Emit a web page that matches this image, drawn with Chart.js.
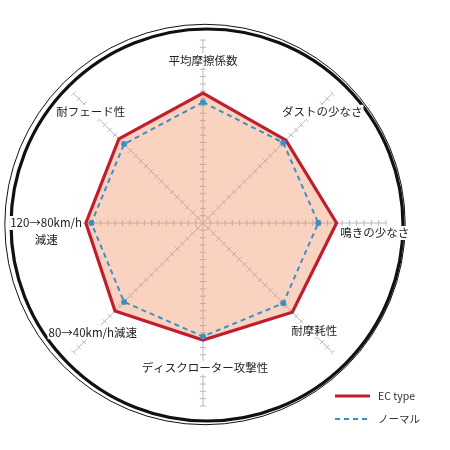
<!DOCTYPE html>
<html>
<head>
<meta charset="utf-8">
<script src="https://cdn.jsdelivr.net/npm/chart.js@4/dist/chart.umd.min.js"></script>
<style>
  html, body { margin: 0; padding: 0; background: #fff; }
</style>
</head>
<body>
<canvas id="radarChart" width="450" height="450"></canvas>
<script>
// axes, clockwise from the top
var categories = ['平均摩擦係数', 'ダストの少なさ', '鳴きの少なさ', '耐摩耗性',
                  'ディスクローター攻撃性', '80→40km/h減速', ['120→80km/h', '減速'], '耐フェード性'];
var seriesNames = ['EC type', 'ノーマル'];
var ecValues     = [3.55, 3.2, 3.65, 3.45, 3.2, 3.4, 3.2, 3.25];
var normalValues = [3.3, 3.1, 3.15, 3.1, 3.1, 3.05, 3.05, 3.05];
var scaleMin = 0, scaleMax = 5, scaleStep = 0.2;

var redColor  = '#c01e2d';
var blueColor = '#3a8fc6';
var gridColor = '#b9b9c4';
var jpFont = '"Noto Sans CJK JP", "Noto Sans", sans-serif';

// small nudges so each label sits where the original put it
var labelShift = [[0, 0], [4, 4], [9, 10], [-4, -8], [2, -18], [5, -6], [6, 0], [3, 4]];

var decor = {
  id: 'decor',
  beforeDatasetsDraw: function(chart) {
    var s = chart.scales.r, ctx = chart.ctx;
    ctx.save();
    ctx.strokeStyle = gridColor;
    ctx.lineWidth = 1;
    s.ticks.forEach(function(t) {
      if (t.value <= scaleMin) return;
      var d = s.getDistanceFromCenterForValue(t.value);
      for (var i = 0; i < chart.data.labels.length; i++) {
        var p = s.getPointPosition(i, d);
        var nx = -Math.sin(p.angle), ny = Math.cos(p.angle);
        var h = 3;
        ctx.beginPath();
        ctx.moveTo(p.x - nx * h, p.y - ny * h);
        ctx.lineTo(p.x + nx * h, p.y + ny * h);
        ctx.stroke();
      }
    });
    ctx.restore();
  },
  afterDraw: function(chart) {
    var s = chart.scales.r, ctx = chart.ctx, R = s.drawingArea;
    ctx.save();

    // double ring around the chart
    ctx.strokeStyle = '#111';
    ctx.lineWidth = 3.2;
    ctx.beginPath();
    ctx.arc(s.xCenter + 4, s.yCenter + 2, R * 1.071, 0, Math.PI * 2);
    ctx.stroke();
    ctx.lineWidth = 1;
    ctx.beginPath();
    ctx.arc(s.xCenter + 2, s.yCenter + 1.5, R * 1.094, 0, Math.PI * 2);
    ctx.stroke();

    // point labels with white backdrop
    ctx.font = '11.5px ' + jpFont;
    ctx.textAlign = 'center';
    ctx.textBaseline = 'middle';
    chart.data.labels.forEach(function(lab, i) {
      var p = s.getPointPosition(i, R * 0.89);
      var lines = Array.isArray(lab) ? lab : [lab];
      lines.forEach(function(txt, k) {
        var x = p.x + labelShift[i][0];
        var y = p.y + labelShift[i][1] + k * 17;
        var w = ctx.measureText(txt).width;
        ctx.fillStyle = '#fff';
        ctx.fillRect(x - w / 2 - 1, y - 7, w + 2, 14);
        ctx.fillStyle = '#222';
        ctx.fillText(txt, x, y);
      });
    });

    // legend, bottom right
    ctx.font = '10.5px ' + jpFont;
    ctx.textAlign = 'left';
    ctx.lineWidth = 3;
    ctx.strokeStyle = redColor;
    ctx.beginPath(); ctx.moveTo(335, 396); ctx.lineTo(370, 396); ctx.stroke();
    ctx.lineWidth = 2;
    ctx.strokeStyle = blueColor;
    ctx.setLineDash([5, 4]);
    ctx.beginPath(); ctx.moveTo(335, 419); ctx.lineTo(370, 419); ctx.stroke();
    ctx.setLineDash([]);
    ctx.fillStyle = '#333';
    ctx.fillText(seriesNames[0], 378, 396);
    ctx.fillText(seriesNames[1], 378, 419);

    ctx.restore();
  }
};

new Chart(document.getElementById('radarChart').getContext('2d'), {
  type: 'radar',
  data: {
    labels: categories,
    datasets: [
      {
        label: seriesNames[1],
        data: normalValues,
        borderColor: blueColor,
        borderWidth: 2,
        borderDash: [5, 4],
        fill: false,
        pointRadius: 3,
        pointBorderWidth: 0,
        pointBackgroundColor: blueColor
      },
      {
        label: seriesNames[0],
        data: ecValues,
        borderColor: redColor,
        borderWidth: 3.2,
        backgroundColor: 'rgba(240,140,90,0.38)',
        fill: true,
        pointRadius: 0
      }
    ]
  },
  options: {
    responsive: false,
    animation: false,
    layout: { padding: { left: 20, right: 64, top: 40, bottom: 44 } },
    elements: { line: { tension: 0, borderJoinStyle: 'miter' } },
    scales: {
      r: {
        min: scaleMin,
        max: scaleMax,
        ticks: { display: false, stepSize: scaleStep },
        grid: { display: false },
        angleLines: { color: gridColor, lineWidth: 1 },
        pointLabels: { display: false }
      }
    },
    plugins: {
      legend: { display: false },
      tooltip: { enabled: false }
    }
  },
  plugins: [decor]
});
</script>
</body>
</html>
